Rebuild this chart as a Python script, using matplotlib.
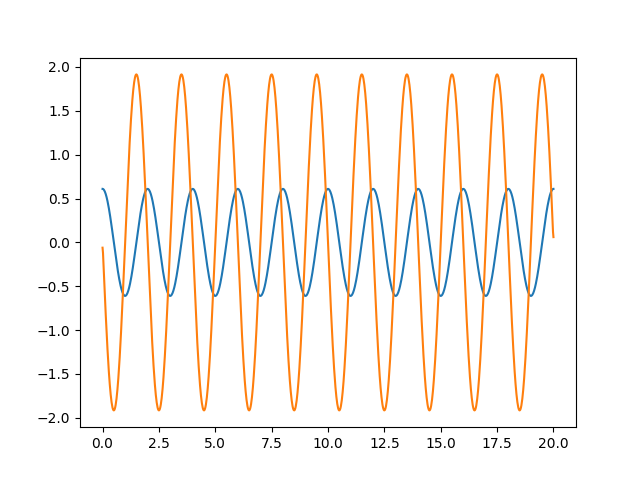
import matplotlib
matplotlib.use("Agg")
import matplotlib.pyplot as plt
import numpy as np

# values
x_start, x_end = 0.0, 20.0
amplitude = 0.61       # blue peak
period = 2.0           # both curves

t = np.linspace(x_start, x_end, 1000)
omega = 2 * np.pi / period
signal = amplitude * np.cos(omega * t)
derivative = np.gradient(signal, t)

fig, ax = plt.subplots(figsize=(6.4, 4.8), dpi=100)
ax.plot(t, signal)
ax.plot(t, derivative)
fig.savefig("out.png")
